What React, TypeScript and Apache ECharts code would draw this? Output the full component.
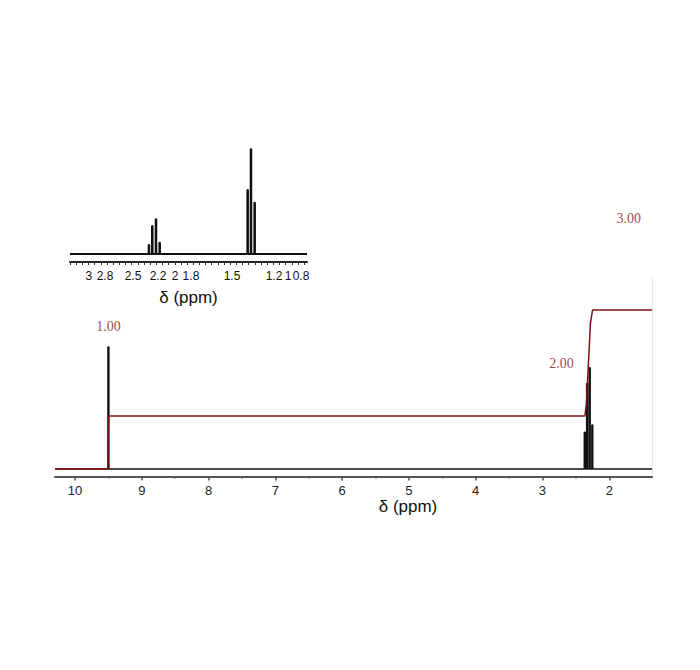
import React, { useEffect, useRef } from "react";
import * as echarts from "echarts";

// ---- Main spectrum (ppm, relative intensity) ----
const mainRange = [1.36, 10.3];
const mainPeaks: [number, number][] = [
  [9.5, 100],
  [2.367, 30],
  [2.332, 70],
  [2.293, 83],
  [2.254, 36],
];
// integral curve (ppm, integral in H)
const integralPts: [number, number][] = [
  [10.3, 0],
  [9.507, 0],
  [9.5, 1.0],
  [2.366, 1.0],
  [2.343, 1.21],
  [2.282, 2.75],
  [2.251, 3.0],
  [1.36, 3.0],
];
// integral labels (ppm, level, text)
const integralLabels: [number, number, string][] = [
  [9.5, 2.68, "1.00"],
  [2.715, 2.0, "2.00"],
  [1.707, 4.72, "3.00"],
];
const mainTickValues = [2, 3, 4, 5, 6, 7, 8, 9, 10];
const mainMinorTicks = [2.5, 3.5, 4.5, 5.5, 6.5, 7.5, 8.5, 9.5];

// ---- Inset (expanded 0.7 - 3.2 ppm) ----
const insetRange = [0.7, 3.2];
const insetPeaks: [number, number][] = [
  [2.367, 8.6],
  [2.332, 26.7],
  [2.293, 33.3],
  [2.254, 10.8],
  [1.326, 61],
  [1.291, 100],
  [1.252, 49],
];
const insetLabels = ["3", "2.8", "2.5", "2.2", "2", "1.8", "1.5", "1.2", "1", "0.8"];
const insetLabelAt = [3.0, 2.831, 2.535, 2.272, 2.092, 1.924, 1.491, 1.048, 0.9, 0.763];

function buildSpectrum(range: number[], peaks: [number, number][], w: number) {
  const sorted = [...peaks].sort((a, b) => a[0] - b[0]);
  const pts: [number, number][] = [[range[0], 0]];
  for (const [p, h] of sorted) {
    pts.push([p - w, 0], [p - w, h], [p + w, h], [p + w, 0]);
  }
  pts.push([range[1], 0]);
  return pts;
}

export default function App() {
  const ref = useRef<HTMLDivElement>(null);
  useEffect(() => {
    if (!ref.current) return;
    const chart = echarts.init(ref.current, undefined, { renderer: "svg" });
    const insetTicks: number[] = [];
    for (let v = 3.2; v >= 0.7; v -= 0.065) insetTicks.push(+v.toFixed(4));

    const red = "#7f1212";
    const sans = "Liberation Sans";
    chart.setOption({
      animation: false,
      backgroundColor: "#ffffff",
      grid: [
        { left: 55, right: 48, top: 277, bottom: 193.5 },
        { left: 70, top: 140, width: 237, height: 122 },
      ],
      xAxis: [
        {
          type: "value",
          gridIndex: 0,
          inverse: true,
          min: mainRange[0],
          max: mainRange[1],
          splitLine: { show: false },
          axisLine: { onZero: false, lineStyle: { color: "#555", width: 2 } },
          axisTick: {
            customValues: mainTickValues,
            length: 4,
            lineStyle: { color: "#555", width: 1.5 },
          },
          axisLabel: {
            customValues: mainTickValues,
            fontSize: 13,
            color: "#222",
            fontFamily: sans,
            margin: 7,
          },
        },
        {
          type: "value",
          gridIndex: 0,
          position: "bottom",
          inverse: true,
          min: mainRange[0],
          max: mainRange[1],
          splitLine: { show: false },
          axisLine: { show: false, onZero: false },
          axisTick: {
            customValues: mainMinorTicks,
            length: 2,
            lineStyle: { color: "#555", width: 1.5 },
          },
          axisLabel: { show: false },
        },
        {
          type: "value",
          gridIndex: 1,
          inverse: true,
          min: insetRange[0],
          max: insetRange[1],
          splitLine: { show: false },
          axisLine: { onZero: false, lineStyle: { color: "#222", width: 2 } },
          axisTick: {
            customValues: insetTicks,
            length: 3,
            lineStyle: { color: "#333", width: 1 },
          },
          axisLabel: {
            customValues: insetLabelAt,
            fontSize: 12,
            color: "#111",
            fontFamily: sans,
            margin: 8,
            hideOverlap: false,
            interval: 0,
            showMinLabel: true,
            showMaxLabel: true,
            formatter: (v: number) => {
              const i = insetLabelAt.findIndex((a) => Math.abs(a - v) < 1e-6);
              return i >= 0 ? insetLabels[i] : "";
            },
          },
          name: "δ (ppm)",
          nameLocation: "middle",
          nameGap: 27,
          nameTextStyle: { fontSize: 17, color: "#111", fontFamily: sans },
        },
      ],
      yAxis: [
        { type: "value", gridIndex: 0, min: -6.15, max: 157.4, show: false },
        {
          type: "value",
          gridIndex: 0,
          position: "right",
          min: -0.1415,
          max: 3.623,
          splitLine: { show: false },
          axisLine: { show: true, onZero: false, lineStyle: { color: "#e8e8e8", width: 1 } },
          axisTick: { show: false },
          axisLabel: { show: false },
        },
        { type: "value", gridIndex: 1, min: -7.6, max: 108.6, show: false },
      ],
      graphic: [
        {
          type: "text",
          x: 408,
          y: 506,
          style: {
            text: "δ (ppm)",
            fontSize: 17,
            fontFamily: sans,
            fill: "#111",
            align: "center",
            verticalAlign: "middle",
          },
        },
      ],
      series: [
        {
          type: "line",
          xAxisIndex: 0,
          yAxisIndex: 0,
          data: buildSpectrum(mainRange, mainPeaks, 0.006),
          symbol: "none",
          lineStyle: { color: "#111", width: 1.6, join: "bevel" },
          z: 2,
        },
        {
          type: "line",
          xAxisIndex: 0,
          yAxisIndex: 1,
          data: integralPts,
          symbol: "none",
          lineStyle: { color: red, width: 1.5 },
          z: 3,
        },
        {
          type: "scatter",
          xAxisIndex: 0,
          yAxisIndex: 1,
          clip: false,
          symbolSize: 0,
          data: integralLabels.map(([x, y, t]) => ({ value: [x, y], name: t })),
          label: {
            show: true,
            position: "inside",
            formatter: (p: any) => p.name,
            fontFamily: "Liberation Serif",
            fontSize: 14,
            color: red,
          },
          z: 4,
        },
        {
          type: "line",
          xAxisIndex: 2,
          yAxisIndex: 2,
          data: buildSpectrum(insetRange, insetPeaks, 0.004),
          symbol: "none",
          lineStyle: { color: "#111", width: 1.8, join: "bevel" },
          z: 2,
        },
      ],
    });
    return () => chart.dispose();
  }, []);
  return (
    <div
      ref={ref}
      style={{ position: "fixed", left: 0, top: 0, width: 700, height: 670, background: "#fff" }}
    />
  );
}
